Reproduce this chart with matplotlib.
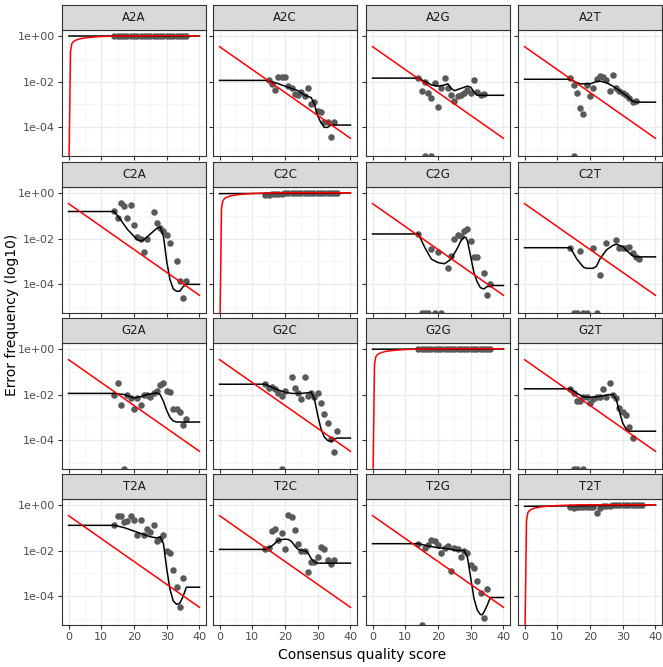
import matplotlib
matplotlib.use("Agg")
import matplotlib.pyplot as plt
import numpy as np

# transitions, facet order
labels = ["A2A", "A2C", "A2G", "A2T",
          "C2A", "C2C", "C2G", "C2T",
          "G2A", "G2C", "G2G", "G2T",
          "T2A", "T2C", "T2G", "T2T"]

# observed error frequencies as (quality, log10 freq); None = zero count
qs = list(range(14, 37))
obs = {
    "A2C": [(15,-1.95),(16,-2.1),(17,-2.35),(18,-1.8),(19,-1.78),(20,-1.78),(21,-2.2),(22,-2.3),(23,-2.55),
            (24,-2.6),(25,-2.45),(26,-2.65),(27,-2.3),(28,-3.0),(29,-2.9),(30,-3.3),(31,-3.35),(32,-3.75),
            (33,-3.75),(34,-4.4),(35,-3.75)],
    "A2G": [(14,-1.85),(15,-2.4),(16,-2.0),(17,-2.5),(18,-2.7),(19,-2.05),(20,-3.1),(21,-2.3),(22,-1.85),
            (23,-2.3),(24,-2.6),(25,-2.85),(26,-2.65),(27,-2.6),(28,-2.5),(29,-2.35),(30,-2.5),(31,-1.95),
            (32,-2.45),(33,-2.6),(34,-2.55),(16,None),(18,None)],
    "A2T": [(14,-1.85),(15,-2.15),(16,-2.5),(17,-3.15),(18,-3.4),(19,-2.15),(20,-2.65),(21,-2.3),(22,-1.9),
            (23,-1.75),(24,-1.8),(25,-1.95),(26,-2.4),(27,-1.7),(28,-2.3),(29,-2.4),(30,-2.5),(31,-2.6),
            (32,-2.7),(33,-2.9),(34,-2.85),(15,None)],
    "C2A": [(14,-0.8),(15,-1.1),(16,-0.45),(17,-0.6),(18,-1.1),(19,-0.55),(20,-1.4),(21,-1.95),(22,-2.0),
            (23,-2.6),(24,-2.0),(26,-0.85),(27,-1.3),(28,-1.55),(29,-1.65),(30,-1.85),(31,-2.2),(33,-3.0),
            (34,-3.85),(35,-4.6),(36,-3.85)],
    "C2G": [(14,-1.8),(18,-2.45),(20,-2.6),(23,-3.3),(24,-2.75),(25,-2.0),(26,-1.85),(27,-1.9),(28,-1.65),
            (29,-1.6),(30,-2.1),(31,-2.8),(32,-2.8),(34,-3.5),(35,-4.45),(36,-4.0),
            (15,None),(16,None),(17,None),(19,None),(21,None)],
    "C2T": [(14,-2.4),(17,-2.55),(21,-2.4),(23,-3.6),(25,-2.2),(28,-2.05),(29,-2.4),(30,-2.4),(31,-2.4),
            (32,-2.35),(33,-2.65),(34,-2.8),(35,-2.9),(15,None),(16,None),(18,None),(19,None),(22,None)],
    "G2A": [(14,-2.0),(15,-1.5),(16,-2.45),(18,-2.0),(19,-2.15),(20,-2.65),(21,-2.15),(22,-2.45),(23,-2.0),
            (24,-2.0),(25,-2.1),(26,-1.95),(27,-1.85),(28,-1.6),(29,-1.5),(30,-1.85),(31,-1.9),(32,-2.65),
            (33,-2.65),(34,-2.75),(35,-3.35),(36,-3.05),(17,None)],
    "G2C": [(14,-1.55),(15,-1.7),(16,-1.65),(17,-1.75),(18,-1.95),(19,-2.05),(20,-1.85),(22,-1.25),(23,-1.7),
            (24,-1.95),(25,-2.2),(26,-1.25),(27,-2.05),(28,-1.95),(29,-2.1),(30,-1.95),(31,-2.35),(32,-2.85),
            (33,-3.25),(34,-3.95),(35,-4.5),(36,-3.6),(19,None)],
    "G2T": [(14,-1.75),(15,-1.95),(16,-2.3),(17,-2.3),(18,-2.1),(19,-2.1),(20,-2.35),(21,-2.2),(22,-2.1),
            (23,-2.1),(24,-1.75),(25,-2.1),(26,-1.5),(27,-2.0),(28,-2.15),(29,-2.6),(30,-2.75),(31,-2.9),
            (32,-3.4),(33,-3.9),(15,None),(16,None),(18,None)],
    "T2A": [(14,-0.9),(15,-0.5),(16,-0.5),(17,-0.75),(18,-0.7),(19,-0.5),(20,-0.65),(21,-1.3),(22,-0.65),
            (23,-1.3),(24,-1.05),(25,-1.2),(26,-0.9),(27,-1.6),(28,-1.5),(29,-1.3),(30,-2.0),(31,-2.1),
            (32,-2.85),(33,-3.6),(34,-4.45),(35,-3.2)],
    "T2C": [(14,-1.95),(15,-1.9),(16,-1.15),(17,-1.05),(18,-1.55),(19,-1.25),(20,-1.95),(21,-0.45),(22,-0.55),
            (23,-1.1),(24,-1.7),(25,-2.0),(26,-2.0),(27,-2.95),(28,-2.5),(29,-2.5),(30,-2.3),(31,-1.85),
            (32,-1.95),(33,-2.4),(34,-2.6),(35,-2.4)],
    "T2G": [(14,-1.7),(16,-1.9),(17,-1.75),(18,-1.55),(19,-1.6),(20,-1.75),(21,-2.1),(22,-1.9),(23,-1.8),
            (24,-2.9),(25,-1.9),(26,-1.95),(27,-2.3),(28,-2.0),(29,-2.1),(30,-2.65),(31,-2.75),(32,-3.35),
            (33,-3.85),(34,-4.95),(35,-3.7),(15,None)],
}
# self-transitions sit just under 1
diag_obs = {
    "A2A": [-0.01] * len(qs),
    "C2C": [-0.08,-0.1,-0.05,-0.06,-0.04,-0.05,-0.02,-0.03,-0.02,-0.02,-0.02,-0.01,-0.02,-0.01,-0.01,
            -0.01,-0.01,-0.01,-0.01,-0.01,-0.01,-0.01,-0.01],
    "G2G": [-0.02] * len(qs),
    "T2T": [-0.12,-0.15,-0.1,-0.12,-0.08,-0.1,-0.12,-0.08,-0.35,-0.15,-0.06,-0.05,-0.04,-0.03,-0.02,
            -0.02,-0.02,-0.02,-0.02,-0.01,-0.01,-0.01,-0.01],
}

# fitted error rates (quality knots, log10 rate)
fit = {
    "A2A": ([0, 40], [-0.01, -0.01]),
    "C2C": ([0, 40], [-0.04, -0.01]),
    "G2G": ([0, 40], [-0.02, -0.01]),
    "T2T": ([0, 40], [-0.07, -0.01]),
    "A2C": ([0,14,17,20,24,26,27,28,29,30,31,32,33,34,40],
            [-1.95,-1.95,-2.05,-2.2,-2.4,-2.6,-2.65,-2.7,-3.0,-3.5,-3.8,-4.0,-4.0,-3.9,-3.9]),
    "A2G": ([0,14,16,18,20,22,23,24,25,27,29,30,31,32,40],
            [-1.85,-1.85,-2.0,-2.15,-2.2,-2.15,-2.1,-2.3,-2.4,-2.3,-2.2,-2.25,-2.45,-2.6,-2.6]),
    "A2T": ([0,14,16,17,20,22,23,25,27,29,31,33,34,40],
            [-1.9,-1.9,-2.05,-2.1,-2.1,-2.0,-1.98,-2.05,-2.2,-2.4,-2.6,-2.85,-2.9,-2.9]),
    "C2A": ([0,14,16,18,20,21,22,23,25,27,28,29,30,31,32,33,34,35,36,40],
            [-0.82,-0.82,-1.2,-1.6,-1.9,-2.05,-2.1,-2.05,-1.8,-1.55,-1.5,-1.9,-3.0,-3.8,-4.2,-4.3,-4.3,-4.1,-4.0,-4.0]),
    "C2G": ([0,14,16,18,20,22,24,26,27,28,28.5,29,30,31,32,33,34,35,36,40],
            [-1.8,-1.8,-2.4,-2.9,-3.05,-3.1,-2.9,-2.4,-2.1,-1.95,-1.95,-2.1,-2.8,-3.5,-3.9,-4.15,-4.2,-4.1,-4.05,-4.05]),
    "C2T": ([0,14,16,18,19,21,22,23,25,27,28,30,31,33,34,40],
            [-2.4,-2.4,-2.9,-3.25,-3.3,-3.3,-3.2,-2.9,-2.5,-2.3,-2.25,-2.35,-2.5,-2.75,-2.8,-2.8]),
    "G2A": ([0,14,17,19,20,22,24,26,27,28,29,30,31,32,33,34,40],
            [-1.95,-1.95,-2.0,-2.1,-2.15,-2.1,-2.0,-1.95,-1.93,-2.0,-2.3,-2.7,-3.0,-3.15,-3.2,-3.2,-3.2]),
    "G2C": ([0,14,17,20,22,25,27,28,29,30,31,32,33,34,35,36,40],
            [-1.55,-1.55,-1.75,-1.9,-1.95,-1.95,-1.92,-1.9,-2.2,-2.9,-3.5,-3.85,-4.0,-4.05,-3.95,-3.9,-3.9]),
    "G2T": ([0,14,16,18,20,22,24,26,27,28,29,30,31,32,40],
            [-1.75,-1.75,-1.95,-2.1,-2.12,-2.1,-2.05,-2.0,-2.0,-2.2,-2.75,-3.25,-3.5,-3.6,-3.6]),
    "T2A": ([0,14,17,20,23,25,27,28,29,30,31,32,33,34,35,36,40],
            [-0.9,-0.9,-1.0,-1.15,-1.3,-1.4,-1.45,-1.4,-1.7,-2.8,-3.7,-4.2,-4.35,-4.3,-4.0,-3.6,-3.6]),
    "T2C": ([0,14,16,18,20,21,22,23,24,25,26,27,28,29,30,31,32,34,40],
            [-1.95,-1.95,-1.8,-1.55,-1.5,-1.52,-1.6,-1.8,-1.95,-2.0,-2.0,-2.1,-2.35,-2.5,-2.55,-2.55,-2.55,-2.55,-2.55]),
    "T2G": ([0,14,17,20,22,24,26,28,29,30,31,32,33,33.5,34,35,36,40],
            [-1.7,-1.7,-1.8,-1.88,-1.9,-1.95,-2.0,-2.0,-2.3,-3.2,-4.1,-4.6,-4.8,-4.8,-4.7,-4.4,-4.05,-4.05]),
}

# nominal rates implied by the quality score
nom_q = [0, 40]
nom_off = [1/3, 1e-4/3]
nom_diag_q = [0, 0.6, 1, 1.5, 2, 3, 4, 5, 7, 10, 15, 20, 30, 40]
nom_diag = [1e-7, 0.2, 0.45, 0.55, 0.62, 0.7, 0.76, 0.8, 0.86, 0.92, 0.97, 0.99, 0.999, 1.0]

W, H = 663, 667
fig = plt.figure(figsize=(W / 100, H / 100), dpi=100)
col_x = [62, 213, 366, 518]
pw = 144
row_top = [5, 162, 318, 474]
sh, ph = 25, 126
ymin, ymax = 10 ** -5.25, 10 ** 0.25

for i, lab in enumerate(labels):
    r, c = divmod(i, 4)
    x0 = col_x[c] / W
    ytop = row_top[r]
    ax = fig.add_axes([x0, 1 - (ytop + sh + ph) / H, pw / W, ph / H])
    sax = fig.add_axes([x0, 1 - (ytop + sh) / H, pw / W, sh / H])
    sax.set_facecolor("#d9d9d9")
    sax.set_xticks([]); sax.set_yticks([])
    for s in sax.spines.values():
        s.set_color("#333333"); s.set_linewidth(0.8)
    sax.text(0.5, 0.5, lab, ha="center", va="center", fontsize=8.5, color="#1a1a1a")

    ax.set_yscale("log")
    ax.set_xlim(-2, 42)
    ax.set_ylim(ymin, ymax)
    ax.set_xticks([0, 10, 20, 30, 40])
    ax.set_xticks([5, 15, 25, 35], minor=True)
    ax.set_yticks([1e0, 1e-2, 1e-4])
    ax.set_yticks([1e-1, 1e-3, 1e-5], minor=True)
    ax.yaxis.set_minor_formatter(matplotlib.ticker.NullFormatter())
    ax.grid(True, which="major", color="#ebebeb", lw=0.9)
    ax.grid(True, which="minor", color="#f3f3f3", lw=0.5)
    ax.set_axisbelow(True)
    ax.tick_params(which="minor", length=0)
    ax.tick_params(which="major", length=3, color="#333333", labelsize=8, labelcolor="#4d4d4d", pad=2)
    for s in ax.spines.values():
        s.set_color("#333333"); s.set_linewidth(0.8)
    if c == 0:
        ax.set_yticklabels(["1e+00", "1e-02", "1e-04"])
    else:
        ax.set_yticklabels([])
    if r < 3:
        ax.set_xticklabels([])

    if lab in diag_obs:
        ax.scatter(qs, 10 ** np.array(diag_obs[lab]), s=22, color="#595959", zorder=2, lw=0)
        ax.plot(nom_diag_q, nom_diag, color="red", lw=1.1, zorder=4)
    else:
        pts = obs[lab]
        px = [q for q, v in pts]
        py = [ymin if v is None else 10 ** v for q, v in pts]
        ax.scatter(px, py, s=22, color="#595959", zorder=2, lw=0)
        ax.plot(nom_q, nom_off, color="red", lw=1.1, zorder=4)
    fq, fv = fit[lab]
    ax.plot(fq, 10 ** np.array(fv), color="black", lw=1.1, zorder=3)

fig.text(0.5 * (62 + 662) / W, 1 - 655 / H, "Consensus quality score", ha="center", va="center", fontsize=10)
fig.text(12 / W, 1 - 315 / H, "Error frequency (log10)", ha="center", va="center", rotation=90, fontsize=10)
fig.savefig("out.png", dpi=100)
